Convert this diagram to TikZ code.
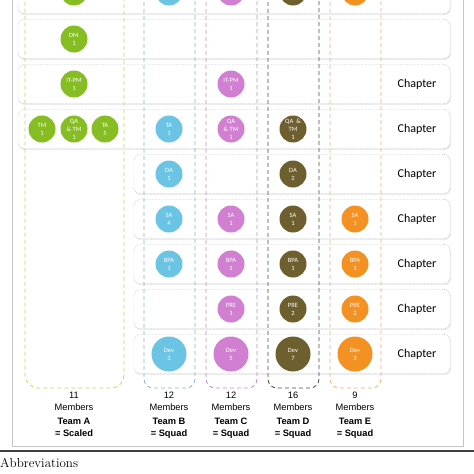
\documentclass[tikz,border=0pt]{standalone}
\usepackage{fontspec}
\newfontfamily\calibri{Carlito}
\newfontfamily\arial{Liberation Sans}
\usetikzlibrary{positioning}
\usetikzlibrary{shadows}
\definecolor{agreen}{HTML}{86BD22}
\definecolor{bblue}{HTML}{6CC4E4}
\definecolor{cpink}{HTML}{D17FD0}
\definecolor{dbrown}{HTML}{6E5F2E}
\definecolor{eorange}{HTML}{F39122}
\definecolor{adash}{HTML}{C4D65E}
\definecolor{bdash}{HTML}{8DB2C6}
\definecolor{cdash}{HTML}{C98BC9}
\definecolor{ddash}{HTML}{4A4A4A}
\definecolor{edash}{HTML}{F0B27A}
\begin{document}
\begin{tikzpicture}[
		x=1pt,y=-1pt,
		every node/.append style={inner sep=0pt},
		chapterrow/.style={draw=gray!80,densely dotted,rounded corners=6pt,fill=white,
			minimum height=39pt,drop shadow={opacity=0.15,shadow xshift=1pt,shadow yshift=-1.5pt}},
		teamcol/.style={dash pattern=on 4pt off 3pt,line width=0.8pt,rounded corners=9pt,
			minimum width=51pt,minimum height=418pt},
		role/.style={circle,minimum size=27pt,text=white,align=center,
			font=\calibri\fontsize{6.5}{8}\selectfont},
		dev/.style={role,minimum size=35pt},
		chapter/.style={font=\calibri\fontsize{12}{14}\selectfont},
		teamlabel/.style={align=center,font=\arial\fontsize{9.3}{12}\selectfont},
	]
	\useasboundingbox (0,0) rectangle (474,474);
	% outer frame
	\draw[gray!45] (12,-5) |- (463,446) -- (463,-5);
	% chapter rows
	\node[chapterrow,minimum width=432pt] (row0) at (234,-6) {};
	\node[chapterrow,minimum width=432pt] (rowdm) at (234,39) {};
	\node[chapterrow,minimum width=432pt] (rowitpm) at (234,84) {};
	\node[chapterrow,minimum width=432pt] (rowta) at (234,129) {};
	\node[chapterrow,minimum width=316pt] (rowda) at (292,174) {};
	\node[chapterrow,minimum width=316pt] (rowsa) at (292,219) {};
	\node[chapterrow,minimum width=316pt] (rowbpa) at (292,264) {};
	\node[chapterrow,minimum width=316pt] (rowpre) at (292,309) {};
	\node[chapterrow,minimum width=316pt] (rowdev) at (292,354) {};
	% team columns
	\node[teamcol,draw=adash,minimum width=99pt,rounded corners=13pt] (teamA) at (74.5,179) {};
	\node[teamcol,draw=bdash] (teamB) at (169.5,179) {};
	\node[teamcol,draw=cdash] (teamC) at (231.5,179) {};
	\node[teamcol,draw=ddash] (teamD) at (293.5,179) {};
	\node[teamcol,draw=edash] (teamE) at (355.5,179) {};
	% top row (cut off)
	\node[role,fill=agreen] (a0) at (74,-8) {};
	\node[role,fill=bblue] (b0) at (169,-8) {};
	\node[role,fill=cpink] (c0) at (231,-8) {};
	\node[role,fill=dbrown] (d0) at (293,-8) {};
	\node[role,fill=eorange] (e0) at (355,-8) {};
	% team A
	\node[role,fill=agreen] (adm) at (74,39) {DM\\1};
	\node[role,fill=agreen] (aitpm) at (74,84) {IT-PM\\1};
	\node[role,fill=agreen] (atm) at (42,129) {TM\\1};
	\node[role,fill=agreen] (aqa) at (74,129) {QA\\\& TM\\1};
	\node[role,fill=agreen] (ata) at (105,129) {TA\\5};
	% team B
	\node[role,fill=bblue] (bta) at (169,129) {TA\\1};
	\node[role,fill=bblue] (bda) at (169,174) {DA\\1};
	\node[role,fill=bblue] (bsa) at (169,219) {SA\\4};
	\node[role,fill=bblue] (bbpa) at (169,264) {BPA\\1};
	\node[dev,fill=bblue] (bdev) at (169,354) {Dev\\3};
	% team C
	\node[role,fill=cpink] (citpm) at (231,84) {IT-PM\\1};
	\node[role,fill=cpink] (cqa) at (231,129) {QA\\\& TM\\1};
	\node[role,fill=cpink] (csa) at (231,219) {SA\\1};
	\node[role,fill=cpink] (cbpa) at (231,264) {BPA\\1};
	\node[role,fill=cpink] (cpre) at (231,309) {PRE\\1};
	\node[dev,fill=cpink] (cdev) at (231,354) {Dev\\5};
	% team D
	\node[role,fill=dbrown] (dqa) at (293,129) {QA \ \&\\TM\\1};
	\node[role,fill=dbrown] (dda) at (293,174) {DA\\2};
	\node[role,fill=dbrown] (dsa) at (293,219) {SA\\1};
	\node[role,fill=dbrown] (dbpa) at (293,264) {BPA\\1};
	\node[role,fill=dbrown] (dpre) at (293,309) {PRE\\2};
	\node[dev,fill=dbrown] (ddev) at (293,354) {Dev\\7};
	% team E
	\node[role,fill=eorange] (esa) at (355,219) {SA\\1};
	\node[role,fill=eorange] (ebpa) at (355,264) {BPA\\1};
	\node[role,fill=eorange] (epre) at (355,309) {PRE\\2};
	\node[dev,fill=eorange] (edev) at (355,354) {Dev\\3};
	% chapter labels
	\node[chapter] (chitpm) at (417,84) {Chapter};
	\node[chapter] (chta) at (417,129) {Chapter};
	\node[chapter] (chda) at (417,174) {Chapter};
	\node[chapter] (chsa) at (417,219) {Chapter};
	\node[chapter] (chbpa) at (417,264) {Chapter};
	\node[chapter] (chpre) at (417,309) {Chapter};
	\node[chapter] (chdev) at (417,354) {Chapter};
	% team labels below the columns
	\node[teamlabel,anchor=north] (labA) at (74,392) {11\\Members\\[2pt]\textbf{Team A}\\\textbf{= Scaled}};
	\node[teamlabel,anchor=north] (labB) at (169,392) {12\\Members\\[2pt]\textbf{Team B}\\\textbf{= Squad}};
	\node[teamlabel,anchor=north] (labC) at (231,392) {12\\Members\\[2pt]\textbf{Team C}\\\textbf{= Squad}};
	\node[teamlabel,anchor=north] (labD) at (293,392) {16\\Members\\[2pt]\textbf{Team D}\\\textbf{= Squad}};
	\node[teamlabel,anchor=north] (labE) at (355,392) {9\\Members\\[2pt]\textbf{Team E}\\\textbf{= Squad}};
	% caption part
	\draw[line width=1.4pt,black!75] (0,451) -- (474,451);
	\node[anchor=base west,font=\fontsize{13}{15}\selectfont] (abbrev) at (0,467) {Abbreviations};
\end{tikzpicture}
\end{document}
